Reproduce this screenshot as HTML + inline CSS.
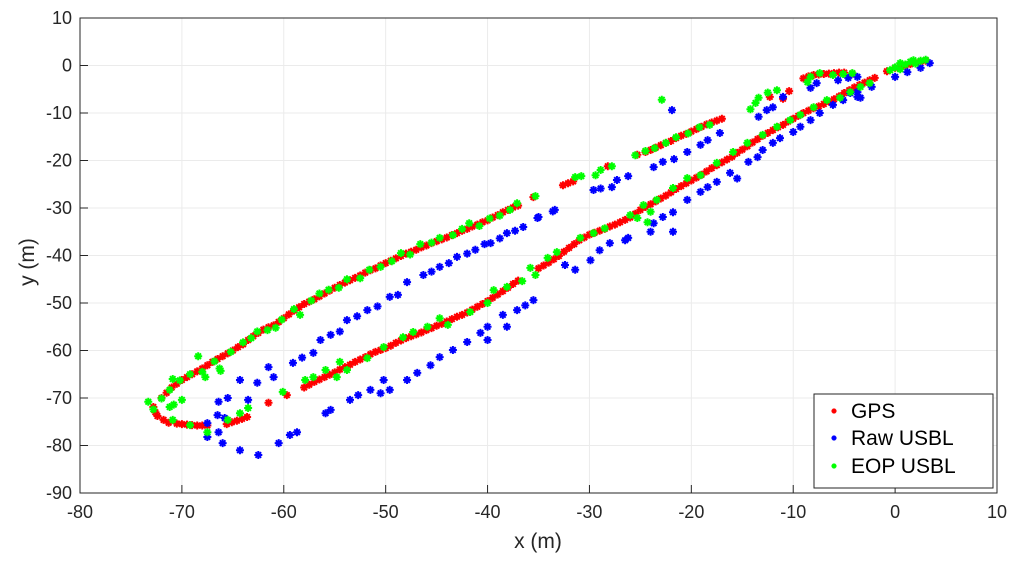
<!DOCTYPE html>
<html><head><meta charset="utf-8"><style>
body{margin:0;background:#fff;}
svg{display:block;font-family:"Liberation Sans",Arial,sans-serif;}
</style></head><body>
<svg id="chart" width="1024" height="562" xmlns="http://www.w3.org/2000/svg">
<g id="grid"></g>
<g id="marks"></g>
<g id="axes"></g>
<text x="538" y="548" font-size="21" text-anchor="middle" fill="#262626">x (m)</text>
<text transform="translate(34,262) rotate(-90)" font-size="21" text-anchor="middle" fill="#262626">y (m)</text>
<g>
<rect x="814" y="394" width="179" height="94" fill="#fff" stroke="#262626" stroke-width="1"/>
<g id="legmarks"></g>
<text x="851" y="418" font-size="21" fill="#000">GPS</text>
<text x="851" y="445" font-size="21" fill="#000">Raw USBL</text>
<text x="851" y="473" font-size="21" fill="#000">EOP USBL</text>
</g>
</svg>
<script>
const xTicks=[-80,-70,-60,-50,-40,-30,-20,-10,0,10];
const yTicks=[10,0,-10,-20,-30,-40,-50,-60,-70,-80,-90];
// GPS
const gpsX=[-72,-71,-70,-69,-68,-67,-66,-65,-64,-63,-62,-61,-60,-59,-58,-57,-56,-55,-54,-53,-52,-51,-50,-49,-48,-47,-46,-45,-44,-43,-42,-41,-40,-39,-38,-37,
-71.5,-70.5,-69.5,-68.5,-67.5,-66.5,-65.5,-64.5,-63.5,-62.5,-61.5,-60.5,-59.5,-58.5,-57.5,-56.5,-55.5,-54.5,-53.5,-52.5,-51.5,-50.5,-49.5,-48.5,-47.5,-46.5,-45.5,-44.5,-43.5,-42.5,-41.5,-40.5,-39.5,-38.5,-37.5,
-35.5,-32.6,-32.1,-31.6,-28.2,
-25.3,-24.5,-24,-23.5,-23,-22.5,-22,-21.5,-21,-20.5,-20,-19.5,-19,-18.5,-18,-17.5,-17,-12.3,-11,-10.4,
-9,-8.5,-8,-7.5,-7,-6.5,-6,-5.5,-5,-4.2,
-72.8,-72.6,-72.4,-71.8,-71.3,-70.5,-70,-69.5,-69,-68.5,-68,-67.5,-65.6,-65.1,-64.6,-64.1,-63.6,-61.5,-59.7,
-58,-57,-56,-55,-54,-53,-52,-51,-50,-49,-48,-47,-46,-45,-44,-43,-42,-41,-40,-39,-38,-37,-35,-34,-33,-32,-31,-30,-29,-28,-27,-26,-25,-24,-23,-22,-21,-20,-19,-18,-17,-16,-15,-14,-13,-12,-11,-10,-9,-8,-7,-6,-5,-4,-3,-2,
-57.5,-56.5,-55.5,-54.5,-53.5,-52.5,-51.5,-50.5,-49.5,-48.5,-47.5,-46.5,-45.5,-44.5,-43.5,-42.5,-41.5,-40.5,-39.5,-38.5,-37.5,-34.5,-33.5,-32.5,-31.5,-30.5,-29.5,-28.5,-27.5,-26.5,-25.5,-24.5,-23.5,-22.5,-21.5,-20.5,-19.5,-18.5,-17.5,-16.5,-15.5,-14.5,-13.5,-12.5,-11.5,-10.5,-9.5,-8.5,-7.5,-6.5,-5.5,-4.5,-3.5,-2.5,
-0.8,0,0.5,1,1.5,2,2.5,3];
const gpsY=[-70,-67.8,-66.2,-65,-63.8,-62.4,-61.2,-60,-58.7,-57,-55.6,-54.7,-53.2,-51.6,-50.2,-49.2,-48,-46.8,-45.7,-44.7,-43.6,-42.7,-41.6,-40.6,-39.6,-38.8,-37.9,-37,-36.2,-35.3,-34.4,-33.5,-32.6,-31.5,-30.4,-29.5,
-68.9,-67,-65.6,-64.4,-63.1,-61.8,-60.6,-59.3,-57.8,-56.3,-55.1,-54,-52.4,-50.9,-49.7,-48.6,-47.4,-46.2,-45.2,-44.2,-43.1,-42.1,-41.1,-40.1,-39.2,-38.3,-37.4,-36.6,-35.7,-34.8,-33.9,-33,-32,-30.9,-29.9,
-27.7,-25.2,-24.8,-24.4,-21.2,
-18.8,-18.2,-17.8,-17.3,-16.8,-16.3,-15.9,-15.3,-14.8,-14.4,-13.9,-13.4,-12.9,-12.4,-12,-11.6,-11.2,-6.6,-7,-5.4,
-2.7,-2.3,-2,-1.9,-1.8,-1.7,-1.6,-1.5,-1.5,-1.7,
-71.9,-73,-73.8,-74.6,-75.2,-75.4,-75.5,-75.6,-75.7,-75.8,-75.8,-75.8,-75.5,-75.1,-74.8,-74.4,-74,-71,-69.4,
-67.8,-66.6,-65.6,-64.6,-63.5,-62.4,-61.4,-60.3,-59.5,-58.4,-57.4,-56.6,-55.7,-54.8,-53.9,-52.9,-52,-50.8,-49.6,-48.2,-46.8,-45.3,-42.7,-41.5,-40.1,-38.4,-36.8,-35.6,-34.8,-33.9,-33,-32,-30.4,-29.2,-28,-26.7,-25.4,-24.2,-23,-21.6,-20.4,-19.2,-17.7,-16.2,-14.8,-13.6,-12.5,-11.2,-10,-9,-8.1,-7.1,-5.8,-4.6,-3.6,-2.6,
-67.2,-66.1,-65.1,-64,-63,-61.9,-60.8,-59.9,-59,-57.9,-57,-56.2,-55.3,-54.4,-53.4,-52.5,-51.4,-50.2,-48.9,-47.5,-46,-42.1,-40.8,-39.2,-37.6,-36.2,-35.2,-34.4,-33.5,-32.5,-31.2,-29.8,-28.6,-27.4,-26,-24.8,-23.6,-22.3,-21,-19.8,-18.4,-17,-15.5,-14.2,-13,-11.8,-10.6,-9.5,-8.6,-7.6,-6.5,-5.2,-4.1,-3.1,
-1.2,-0.5,-0.2,0,0.3,0.5,0.8,1];
// Raw USBL
const rawX=[-64.3,-62.6,-61,-61.5,-59.1,-58.2,-57.1,-56.4,-55.4,-54.5,-53.8,-52.8,-51.8,-50.8,-49.6,-48.8,-47.9,-46.3,-45.5,-44.7,-43.8,-43,-42,-41.2,-40.3,-39.7,-38.8,-38.1,-37.3,-36.5,-35.1,-33.6,
-66.4,-65.5,-63.5,-67.5,-66.5,-65.8,-67.5,-66.4,-66,-64.3,-62.5,-60.5,-59.4,-58.7,-55.9,-55.4,-53.5,-52.7,-51.5,-50.5,-50.2,-49.6,-47.9,-46.9,-45.6,-44.7,-43.4,-42,-40.7,-40,-40,-38.5,-38.1,-37.1,-36.3,-35.5,
-32.4,-31.4,-29.9,-29,-28,-26.5,-26.2,-24,-23.7,-22.8,-21.8,-20.4,-19.1,-18.4,-17.5,-16.2,-15.5,-14.4,-13.5,-13,-12,-11.3,-10,-9.3,-8.3,-7.4,-6.1,-5.1,-4.4,-3.7,-3.4,-2.3,-21.8,
-23.7,-22.8,-21.7,-20.4,-19.1,-18.4,-17.2,-21.9,-29.6,-28.9,-27.8,-27.3,-26.2,-33.4,-35,
-13.4,-12.6,-12,-11,-8.3,-7.7,-5.6,-4.6,-3.7,-3.7,0,1.2,2.5,3.4];
const rawY=[-66.2,-66.8,-65.6,-63.5,-62.6,-61.5,-60.5,-57.8,-56.7,-56,-53.6,-52.8,-51.5,-50.7,-48.7,-48.3,-45.6,-44.1,-43.4,-42.4,-41.6,-40.3,-39.6,-38.8,-37.6,-37.4,-36.4,-35.3,-34.8,-34,-32.1,-30.7,
-70.8,-70,-70.4,-75.3,-73.6,-74.2,-78.2,-77.2,-79.5,-81,-82,-79.5,-77.8,-77.2,-73.2,-72.5,-70.4,-69.4,-68.3,-69,-66.2,-68.3,-66.2,-64.7,-63.1,-61.4,-59.9,-58.2,-56.3,-55,-57.8,-52.5,-55,-51.5,-50.5,-49.4,
-42,-43,-41,-38.9,-37.4,-36.8,-36.3,-35,-33.2,-31.9,-30.9,-28.3,-26.6,-25.6,-24.5,-22.6,-23.8,-20.3,-19.3,-17.8,-16.3,-15.3,-14,-12.9,-11.5,-10,-8.3,-7.3,-5.8,-5.6,-6.8,-4.5,-35,
-21.4,-20.3,-19.7,-18.2,-16.7,-15.7,-14.2,-9.4,-26.2,-25.9,-25.6,-24.1,-23.3,-30.4,-31.9,
-10.8,-9.4,-8.8,-6.6,-4.7,-3.7,-3.1,-2.6,-2.4,-6.6,-2.4,-1.4,-0.5,0.5];
// EOP USBL
const eopX=[-73.3,-72.8,-72,-71.2,-70.2,-70.8,-68.4,-69.2,-68,-66.8,-66.3,-65.2,-64,-63.2,-62.6,-61.6,-60.8,-60.2,-59,-58.4,-57.3,-56.5,-55.6,-54.6,-53.8,-52.5,-51.6,-50.5,-49.4,-48.5,-47.6,-46.6,-45.5,-44.7,-43.4,-42.5,-41.8,-40.8,-39.8,-38.8,-37.8,-37.1,-35.3,-31.4,-30.8,-29.4,-28.9,-27.8,
-25.5,-24.5,-23.6,-22.5,-21.5,-20.3,-19.2,-18.2,-22.9,
-14.2,-13.4,-13.7,-12.5,-11.6,-8.6,-8.3,-7.4,-6.1,-5.1,-4.2,
-0.5,0,0.5,1,1.5,2,2.5,3,0.5,1.8,
-70.9,-69.2,-67.5,-71.2,-70,-65.5,-64.3,-63.5,-60.1,-66.2,-67.7,-70.9,
-57.9,-57.1,-55.9,-54.5,-54.8,-53.8,-51.8,-50.2,-48.3,-47.3,-45.9,-44.7,-43.9,-41.7,-40,-39.4,-38.1,-36.6,-35.8,-35.3,-34.1,-33.2,
-30.9,-29.6,-28.5,-26,-25.3,-24.7,-24,-24.3,-23.4,-21.8,-20.4,-19.1,-17.5,-15.9,-14.5,-13,-11.6,-10.3,-9.3,-8,-6.7,-5.4,-4.4,-3.4,-2.5];
const eopY=[-70.8,-72.4,-70.1,-68.3,-66.3,-71.4,-61.2,-65,-64.5,-62.3,-63.8,-60.3,-58.3,-57.4,-56,-55.7,-55.2,-53.5,-51.3,-52.5,-49.5,-48,-47.2,-46.8,-45,-44.8,-43,-42.4,-41.2,-39.5,-39.8,-37.6,-37.3,-36.3,-35.7,-34.4,-33.2,-33.8,-32.2,-31.6,-30.4,-29,-27.5,-23.5,-23.3,-23.1,-22,-21.2,
-18.9,-18,-17.4,-16.3,-15.1,-14.3,-13,-12.5,-7.2,
-9.2,-6.8,-7.9,-5.7,-5.2,-3.5,-2.4,-1.6,-2,-1.8,-1.6,
-1,-0.4,0.5,0.2,0.8,0.4,1,1.2,-0.8,1.1,
-74.6,-75.7,-77.2,-71.9,-70.4,-74.6,-73.2,-72.1,-68.7,-64.3,-65.6,-66,
-66.2,-65.6,-64.1,-62.4,-65.6,-64.1,-61.6,-59.3,-57.2,-56.1,-55,-53.2,-54.6,-51.9,-50,-47.3,-46.6,-45.4,-42.6,-44.1,-40.5,-39.3,
-36.3,-35.3,-34.3,-31.5,-32.1,-29.4,-30.8,-33,-28.3,-25.8,-23.7,-23.1,-20.5,-18.2,-16.3,-14.6,-12.9,-11.5,-10.4,-8.8,-7.3,-6.8,-5.6,-4.5,-3.7];

const L=80,R=997,T=18,B=493,XMIN=-80,XMAX=10,YMIN=-90,YMAX=10;
const sx=v=>L+(v-XMIN)/(XMAX-XMIN)*(R-L);
const sy=v=>B-(v-YMIN)/(YMAX-YMIN)*(B-T);
const NS='http://www.w3.org/2000/svg';
function mk(tag,attrs,parent){const e=document.createElementNS(NS,tag);for(const k in attrs)e.setAttribute(k,attrs[k]);parent.appendChild(e);return e;}
const grid=document.getElementById('grid'),axes=document.getElementById('axes'),marks=document.getElementById('marks');
xTicks.forEach(t=>{
  const g=mk('line',{x1:sx(t),x2:sx(t),y1:T,y2:B,stroke:'#ebebeb','stroke-width':1},grid);
  
  
  const tk=mk('line',{x1:sx(t),x2:sx(t),y1:B,y2:B-8,stroke:'#262626','stroke-width':1},axes);
  
  
  const tx=mk('text',{x:sx(t),y:B+25,'font-size':18,'text-anchor':'middle',fill:'#262626'},axes);
  tx.textContent=t;
  
  
});
yTicks.forEach(t=>{
  const g=mk('line',{x1:L,x2:R,y1:sy(t),y2:sy(t),stroke:'#ebebeb','stroke-width':1},grid);
  
  
  const tk=mk('line',{x1:L,x2:L+8,y1:sy(t),y2:sy(t),stroke:'#262626','stroke-width':1},axes);
  
  
  const tx=mk('text',{x:L-8,y:sy(t)+6,'font-size':18,'text-anchor':'end',fill:'#262626'},axes);
  tx.textContent=t;
  
  
});
const box=mk('rect',{x:L,y:T,width:R-L,height:B-T,fill:'none',stroke:'#262626','stroke-width':1},axes);


function star(px,py,c,parent,r){
  const d=`M${px-r},${py}H${px+r}M${px},${py-r}V${py+r}M${px-r*0.7},${py-r*0.7}L${px+r*0.7},${py+r*0.7}M${px-r*0.7},${py+r*0.7}L${px+r*0.7},${py-r*0.7}`;
  return mk('path',{d:d,stroke:c,'stroke-width':2,fill:'none'},parent);
}
function series(xs,ys,c,name){
  const g=mk('g',{},marks);
  
  
  for(let i=0;i<xs.length;i++){
    const p=star(sx(xs[i]),sy(ys[i]),c,g,4);
    
    
  }
}
series(gpsX,gpsY,'#ff0000','gps-series');
series(rawX,rawY,'#0000ff','raw-usbl-series');
series(eopX,eopY,'#00ff00','eop-usbl-series');
const lm=document.getElementById('legmarks');
[['#ff0000',411],['#0000ff',438],['#00ff00',466]].forEach(([c,y])=>{
  const p=star(834,y,c,lm,2.5);
  
  
});
</script>
</body></html>
